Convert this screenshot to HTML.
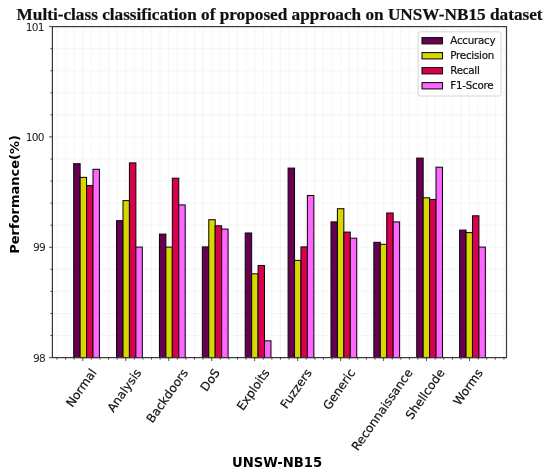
<!DOCTYPE html>
<html lang="en"><head><meta charset="utf-8"><title>Multi-class classification of proposed approach on UNSW-NB15 dataset</title>
<style>
html,body{margin:0;padding:0;background:#fff}
svg{display:block}
text{font-family:"DejaVu Sans","Liberation Sans",sans-serif;fill:#111;stroke:#111;stroke-width:0.2px}
.tk{font-size:10.6px;letter-spacing:-0.8px;stroke:none;fill:#222}
.xl{font-size:12px}
.lg{font-size:10.3px;letter-spacing:-0.25px}
.ti{font-family:"Liberation Serif",serif;font-weight:bold;font-size:16px;fill:#111}
.al{font-weight:bold;fill:#000;stroke:none}
</style></head><body>
<svg width="550" height="475" viewBox="0 0 550 475">
<rect width="550" height="475" fill="#fff"/>
<path d="M56.96 26.6V357.6M65.56 26.6V357.6M74.15 26.6V357.6M82.75 26.6V357.6M91.35 26.6V357.6M99.94 26.6V357.6M108.54 26.6V357.6M117.13 26.6V357.6M125.73 26.6V357.6M134.33 26.6V357.6M142.92 26.6V357.6M151.52 26.6V357.6M160.11 26.6V357.6M168.71 26.6V357.6M177.31 26.6V357.6M185.90 26.6V357.6M194.50 26.6V357.6M203.09 26.6V357.6M211.69 26.6V357.6M220.29 26.6V357.6M228.88 26.6V357.6M237.48 26.6V357.6M246.07 26.6V357.6M254.67 26.6V357.6M263.27 26.6V357.6M271.86 26.6V357.6M280.46 26.6V357.6M289.05 26.6V357.6M297.65 26.6V357.6M306.25 26.6V357.6M314.84 26.6V357.6M323.44 26.6V357.6M332.03 26.6V357.6M340.63 26.6V357.6M349.23 26.6V357.6M357.82 26.6V357.6M366.42 26.6V357.6M375.01 26.6V357.6M383.61 26.6V357.6M392.21 26.6V357.6M400.80 26.6V357.6M409.40 26.6V357.6M417.99 26.6V357.6M426.59 26.6V357.6M435.19 26.6V357.6M443.78 26.6V357.6M452.38 26.6V357.6M460.97 26.6V357.6M469.57 26.6V357.6M478.17 26.6V357.6M486.76 26.6V357.6M495.36 26.6V357.6M503.95 26.6V357.6M52.4 48.67H506.5M52.4 70.73H506.5M52.4 92.80H506.5M52.4 114.87H506.5M52.4 136.93H506.5M52.4 159.00H506.5M52.4 181.07H506.5M52.4 203.13H506.5M52.4 225.20H506.5M52.4 247.27H506.5M52.4 269.33H506.5M52.4 291.40H506.5M52.4 313.47H506.5M52.4 335.53H506.5" stroke="#f0f0f0" stroke-width="0.7" fill="none"/>
<rect x="73.70" y="163.70" width="6.43" height="193.90" fill="#680052" stroke="#0a0a0a" stroke-width="1.05"/>
<rect x="80.13" y="177.40" width="6.43" height="180.20" fill="#d8d800" stroke="#0a0a0a" stroke-width="1.05"/>
<rect x="86.56" y="185.50" width="6.43" height="172.10" fill="#dc004c" stroke="#0a0a0a" stroke-width="1.05"/>
<rect x="93.00" y="169.30" width="6.43" height="188.30" fill="#ff66ff" stroke="#0a0a0a" stroke-width="1.05"/>
<rect x="116.58" y="220.70" width="6.43" height="136.90" fill="#680052" stroke="#0a0a0a" stroke-width="1.05"/>
<rect x="123.01" y="200.60" width="6.43" height="157.00" fill="#d8d800" stroke="#0a0a0a" stroke-width="1.05"/>
<rect x="129.44" y="162.90" width="6.43" height="194.70" fill="#dc004c" stroke="#0a0a0a" stroke-width="1.05"/>
<rect x="135.88" y="247.10" width="6.43" height="110.50" fill="#ff66ff" stroke="#0a0a0a" stroke-width="1.05"/>
<rect x="159.46" y="234.10" width="6.43" height="123.50" fill="#680052" stroke="#0a0a0a" stroke-width="1.05"/>
<rect x="165.89" y="247.10" width="6.43" height="110.50" fill="#d8d800" stroke="#0a0a0a" stroke-width="1.05"/>
<rect x="172.32" y="178.20" width="6.43" height="179.40" fill="#dc004c" stroke="#0a0a0a" stroke-width="1.05"/>
<rect x="178.76" y="204.90" width="6.43" height="152.70" fill="#ff66ff" stroke="#0a0a0a" stroke-width="1.05"/>
<rect x="202.34" y="246.90" width="6.43" height="110.70" fill="#680052" stroke="#0a0a0a" stroke-width="1.05"/>
<rect x="208.77" y="219.70" width="6.43" height="137.90" fill="#d8d800" stroke="#0a0a0a" stroke-width="1.05"/>
<rect x="215.20" y="225.80" width="6.43" height="131.80" fill="#dc004c" stroke="#0a0a0a" stroke-width="1.05"/>
<rect x="221.64" y="229.10" width="6.43" height="128.50" fill="#ff66ff" stroke="#0a0a0a" stroke-width="1.05"/>
<rect x="245.22" y="233.00" width="6.43" height="124.60" fill="#680052" stroke="#0a0a0a" stroke-width="1.05"/>
<rect x="251.65" y="273.80" width="6.43" height="83.80" fill="#d8d800" stroke="#0a0a0a" stroke-width="1.05"/>
<rect x="258.08" y="265.50" width="6.43" height="92.10" fill="#dc004c" stroke="#0a0a0a" stroke-width="1.05"/>
<rect x="264.52" y="340.80" width="6.43" height="16.80" fill="#ff66ff" stroke="#0a0a0a" stroke-width="1.05"/>
<rect x="288.10" y="168.10" width="6.43" height="189.50" fill="#680052" stroke="#0a0a0a" stroke-width="1.05"/>
<rect x="294.53" y="260.40" width="6.43" height="97.20" fill="#d8d800" stroke="#0a0a0a" stroke-width="1.05"/>
<rect x="300.96" y="246.90" width="6.43" height="110.70" fill="#dc004c" stroke="#0a0a0a" stroke-width="1.05"/>
<rect x="307.40" y="195.50" width="6.43" height="162.10" fill="#ff66ff" stroke="#0a0a0a" stroke-width="1.05"/>
<rect x="330.98" y="221.90" width="6.43" height="135.70" fill="#680052" stroke="#0a0a0a" stroke-width="1.05"/>
<rect x="337.41" y="208.70" width="6.43" height="148.90" fill="#d8d800" stroke="#0a0a0a" stroke-width="1.05"/>
<rect x="343.84" y="232.10" width="6.43" height="125.50" fill="#dc004c" stroke="#0a0a0a" stroke-width="1.05"/>
<rect x="350.28" y="238.20" width="6.43" height="119.40" fill="#ff66ff" stroke="#0a0a0a" stroke-width="1.05"/>
<rect x="373.86" y="242.30" width="6.43" height="115.30" fill="#680052" stroke="#0a0a0a" stroke-width="1.05"/>
<rect x="380.29" y="244.30" width="6.43" height="113.30" fill="#d8d800" stroke="#0a0a0a" stroke-width="1.05"/>
<rect x="386.72" y="213.00" width="6.43" height="144.60" fill="#dc004c" stroke="#0a0a0a" stroke-width="1.05"/>
<rect x="393.16" y="221.90" width="6.43" height="135.70" fill="#ff66ff" stroke="#0a0a0a" stroke-width="1.05"/>
<rect x="416.74" y="158.10" width="6.43" height="199.50" fill="#680052" stroke="#0a0a0a" stroke-width="1.05"/>
<rect x="423.17" y="197.80" width="6.43" height="159.80" fill="#d8d800" stroke="#0a0a0a" stroke-width="1.05"/>
<rect x="429.60" y="199.50" width="6.43" height="158.10" fill="#dc004c" stroke="#0a0a0a" stroke-width="1.05"/>
<rect x="436.04" y="167.20" width="6.43" height="190.40" fill="#ff66ff" stroke="#0a0a0a" stroke-width="1.05"/>
<rect x="459.62" y="230.10" width="6.43" height="127.50" fill="#680052" stroke="#0a0a0a" stroke-width="1.05"/>
<rect x="466.05" y="232.60" width="6.43" height="125.00" fill="#d8d800" stroke="#0a0a0a" stroke-width="1.05"/>
<rect x="472.48" y="215.80" width="6.43" height="141.80" fill="#dc004c" stroke="#0a0a0a" stroke-width="1.05"/>
<rect x="478.92" y="247.10" width="6.43" height="110.50" fill="#ff66ff" stroke="#0a0a0a" stroke-width="1.05"/>
<rect x="52.4" y="26.6" width="454.1" height="331.0" fill="none" stroke="#383838" stroke-width="1.2"/>
<path d="M56.96 357.6v2M65.56 357.6v2M74.15 357.6v2M82.75 357.6v3.4M91.35 357.6v2M99.94 357.6v2M108.54 357.6v2M117.13 357.6v2M125.73 357.6v3.4M134.33 357.6v2M142.92 357.6v2M151.52 357.6v2M160.11 357.6v2M168.71 357.6v3.4M177.31 357.6v2M185.90 357.6v2M194.50 357.6v2M203.09 357.6v2M211.69 357.6v3.4M220.29 357.6v2M228.88 357.6v2M237.48 357.6v2M246.07 357.6v2M254.67 357.6v3.4M263.27 357.6v2M271.86 357.6v2M280.46 357.6v2M289.05 357.6v2M297.65 357.6v3.4M306.25 357.6v2M314.84 357.6v2M323.44 357.6v2M332.03 357.6v2M340.63 357.6v3.4M349.23 357.6v2M357.82 357.6v2M366.42 357.6v2M375.01 357.6v2M383.61 357.6v3.4M392.21 357.6v2M400.80 357.6v2M409.40 357.6v2M417.99 357.6v2M426.59 357.6v3.4M435.19 357.6v2M443.78 357.6v2M452.38 357.6v2M460.97 357.6v2M469.57 357.6v3.4M478.17 357.6v2M486.76 357.6v2M495.36 357.6v2M503.95 357.6v2M52.4 26.60h-3.4M52.4 48.67h-2M52.4 70.73h-2M52.4 92.80h-2M52.4 114.87h-2M52.4 136.93h-3.4M52.4 159.00h-2M52.4 181.07h-2M52.4 203.13h-2M52.4 225.20h-2M52.4 247.27h-3.4M52.4 269.33h-2M52.4 291.40h-2M52.4 313.47h-2M52.4 335.53h-2M52.4 357.60h-3.4" stroke="#222" stroke-width="0.8" fill="none"/>
<text x="43.7" y="30.50" text-anchor="end" class="tk">101</text>
<text x="43.7" y="140.83" text-anchor="end" class="tk">100</text>
<text x="44.9" y="251.17" text-anchor="end" class="tk">99</text>
<text x="44.9" y="361.50" text-anchor="end" class="tk">98</text>
<text transform="translate(81.15 387.89) rotate(-55)" text-anchor="middle" dy="0.35em" class="xl">Normal</text>
<text transform="translate(124.13 390.36) rotate(-55)" text-anchor="middle" dy="0.35em" class="xl">Analysis</text>
<text transform="translate(167.11 395.75) rotate(-55)" text-anchor="middle" dy="0.35em" class="xl">Backdoors</text>
<text transform="translate(210.09 380.02) rotate(-55)" text-anchor="middle" dy="0.35em" class="xl">DoS</text>
<text transform="translate(253.07 389.47) rotate(-55)" text-anchor="middle" dy="0.35em" class="xl">Exploits</text>
<text transform="translate(296.05 388.54) rotate(-55)" text-anchor="middle" dy="0.35em" class="xl">Fuzzers</text>
<text transform="translate(339.03 389.17) rotate(-55)" text-anchor="middle" dy="0.35em" class="xl">Generic</text>
<text transform="translate(382.01 409.62) rotate(-55)" text-anchor="middle" dy="0.35em" class="xl">Reconnaissance</text>
<text transform="translate(424.99 393.95) rotate(-55)" text-anchor="middle" dy="0.35em" class="xl">Shellcode</text>
<text transform="translate(467.97 386.97) rotate(-55)" text-anchor="middle" dy="0.35em" class="xl">Worms</text>
<rect x="418.2" y="31.8" width="82.8" height="64.2" rx="2" fill="#fff" fill-opacity="0.8" stroke="#ccc" stroke-width="0.8"/>
<rect x="422" y="37.60" width="20.5" height="6.3" fill="#680052" stroke="#0a0a0a" stroke-width="1.05"/>
<text x="450.3" y="44.30" class="lg">Accuracy</text>
<rect x="422" y="52.60" width="20.5" height="6.3" fill="#d8d800" stroke="#0a0a0a" stroke-width="1.05"/>
<text x="450.3" y="59.30" class="lg">Precision</text>
<rect x="422" y="67.60" width="20.5" height="6.3" fill="#dc004c" stroke="#0a0a0a" stroke-width="1.05"/>
<text x="450.3" y="74.30" class="lg">Recall</text>
<rect x="422" y="82.60" width="20.5" height="6.3" fill="#ff66ff" stroke="#0a0a0a" stroke-width="1.05"/>
<text x="450.3" y="89.30" class="lg">F1-Score</text>
<text x="279.6" y="20.3" text-anchor="middle" class="ti" textLength="526" lengthAdjust="spacingAndGlyphs">Multi-class classification of proposed approach on UNSW-NB15 dataset</text>
<text x="277.1" y="467.1" text-anchor="middle" class="al" font-size="13.2">UNSW-NB15</text>
<text transform="translate(18.7 194.4) rotate(-90)" text-anchor="middle" class="al" font-size="13">Performance(%)</text>
</svg>
</body></html>
